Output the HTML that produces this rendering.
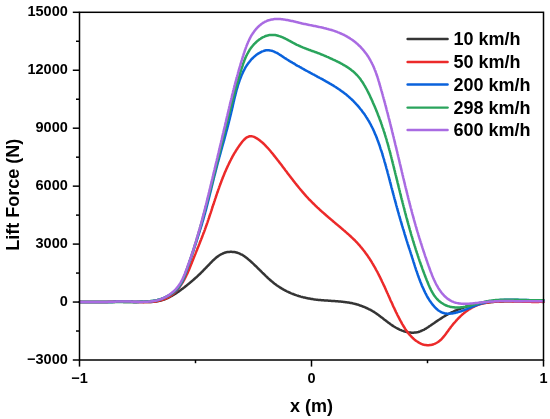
<!DOCTYPE html>
<html><head><meta charset="utf-8"><title>Lift Force vs x</title>
<style>
html,body{margin:0;padding:0;background:#fff;}
body{width:550px;height:419px;overflow:hidden;}
svg{display:block;}
text{font-family:"Liberation Sans",sans-serif;font-weight:bold;fill:#000;}
</style></head><body>
<svg width="550" height="419" viewBox="0 0 550 419">
<rect width="550" height="419" fill="#fff"/>
<g fill="none" stroke-width="2.5" stroke-linecap="round" stroke-linejoin="round">
<path d="M79.5,301.9 L80.8,301.9 L81.7,301.9 L82.6,301.9 L83.6,301.9 L84.5,301.9 L85.5,301.9 L86.4,301.9 L87.4,301.9 L88.3,301.9 L89.3,301.9 L90.3,301.9 L91.2,301.9 L92.2,301.9 L93.2,301.9 L94.2,301.9 L95.2,301.9 L96.1,301.9 L97.1,301.9 L98.1,301.9 L99.1,301.9 L100.1,301.9 L101.1,301.9 L102.2,301.9 L103.2,301.9 L104.2,301.9 L105.2,301.9 L106.2,301.9 L107.2,301.9 L108.3,301.9 L109.3,301.9 L110.3,301.9 L111.3,301.9 L112.3,301.9 L113.4,301.9 L114.4,301.9 L115.4,301.8 L116.5,301.8 L117.5,301.8 L118.5,301.8 L119.6,301.8 L120.6,301.8 L121.6,301.8 L122.6,301.8 L123.7,301.9 L124.7,301.9 L125.7,301.9 L126.8,301.9 L127.8,301.9 L128.8,301.9 L129.8,301.9 L130.9,301.9 L131.9,301.9 L132.9,301.9 L133.9,301.9 L135.0,301.9 L136.0,301.9 L137.0,301.9 L138.0,302.0 L139.0,302.0 L140.0,302.0 L141.0,302.0 L142.0,302.0 L143.0,302.0 L144.0,302.0 L145.0,302.0 L146.0,302.0 L147.0,302.0 L148.0,302.0 L149.0,302.0 L150.0,302.0 L150.9,301.9 L151.9,301.9 L152.9,301.8 L153.8,301.7 L154.8,301.6 L155.8,301.5 L156.7,301.4 L157.6,301.2 L158.6,301.1 L159.5,300.9 L160.5,300.7 L161.4,300.4 L162.3,300.1 L163.2,299.8 L164.1,299.5 L165.0,299.2 L165.9,298.8 L166.8,298.4 L167.7,298.0 L168.6,297.6 L169.5,297.2 L170.3,296.7 L171.2,296.2 L172.1,295.8 L172.9,295.3 L173.8,294.7 L174.6,294.2 L175.5,293.7 L176.3,293.1 L177.2,292.5 L178.0,292.0 L178.8,291.4 L179.7,290.8 L180.5,290.2 L181.3,289.6 L182.1,289.0 L182.9,288.4 L183.7,287.8 L184.5,287.2 L185.3,286.5 L186.1,285.9 L186.9,285.3 L187.7,284.6 L188.5,284.0 L189.2,283.4 L190.0,282.7 L190.8,282.1 L191.5,281.4 L192.3,280.8 L193.1,280.1 L193.8,279.5 L194.6,278.8 L195.3,278.1 L196.1,277.5 L196.8,276.8 L197.6,276.1 L198.3,275.4 L199.0,274.7 L199.8,274.0 L200.5,273.3 L201.2,272.6 L201.9,271.9 L202.7,271.2 L203.4,270.4 L204.1,269.7 L204.8,269.0 L205.5,268.2 L206.2,267.5 L206.9,266.8 L207.6,266.0 L208.3,265.3 L209.1,264.5 L209.8,263.8 L210.5,263.0 L211.2,262.3 L211.9,261.6 L212.6,260.9 L213.3,260.2 L214.1,259.5 L214.8,258.8 L215.6,258.2 L216.3,257.5 L217.1,256.9 L217.9,256.4 L218.7,255.8 L219.5,255.3 L220.3,254.8 L221.1,254.3 L222.0,253.9 L222.8,253.5 L223.7,253.1 L224.6,252.8 L225.5,252.5 L226.4,252.3 L227.4,252.1 L228.4,252.0 L229.4,251.9 L230.4,251.8 L231.4,251.8 L232.4,251.9 L233.4,252.0 L234.4,252.1 L235.4,252.3 L236.4,252.5 L237.4,252.8 L238.3,253.1 L239.2,253.4 L240.1,253.8 L241.0,254.3 L241.9,254.7 L242.8,255.2 L243.6,255.7 L244.4,256.3 L245.3,256.9 L246.1,257.5 L246.8,258.1 L247.6,258.7 L248.4,259.4 L249.2,260.0 L249.9,260.7 L250.7,261.3 L251.4,262.0 L252.2,262.7 L252.9,263.4 L253.7,264.1 L254.4,264.8 L255.1,265.5 L255.9,266.2 L256.6,266.9 L257.3,267.6 L258.0,268.3 L258.7,269.0 L259.5,269.7 L260.2,270.5 L260.9,271.2 L261.6,271.9 L262.3,272.6 L263.1,273.3 L263.8,274.0 L264.5,274.7 L265.2,275.4 L265.9,276.1 L266.7,276.8 L267.4,277.5 L268.1,278.2 L268.9,278.9 L269.6,279.5 L270.4,280.2 L271.1,280.8 L271.9,281.5 L272.7,282.1 L273.4,282.7 L274.2,283.4 L275.0,284.0 L275.8,284.6 L276.6,285.2 L277.4,285.7 L278.2,286.3 L279.0,286.8 L279.9,287.4 L280.7,287.9 L281.5,288.4 L282.4,288.9 L283.2,289.4 L284.1,289.9 L285.0,290.3 L285.9,290.8 L286.7,291.3 L287.6,291.7 L288.5,292.1 L289.4,292.5 L290.3,292.9 L291.2,293.3 L292.2,293.7 L293.1,294.0 L294.0,294.4 L294.9,294.8 L295.9,295.1 L296.8,295.4 L297.8,295.7 L298.7,296.0 L299.7,296.3 L300.6,296.6 L301.6,296.9 L302.6,297.1 L303.5,297.4 L304.5,297.6 L305.5,297.8 L306.5,298.1 L307.5,298.3 L308.5,298.5 L309.4,298.6 L310.4,298.8 L311.4,299.0 L312.4,299.1 L313.4,299.3 L314.4,299.4 L315.4,299.6 L316.4,299.7 L317.4,299.8 L318.4,299.9 L319.5,300.0 L320.5,300.1 L321.5,300.2 L322.5,300.3 L323.5,300.3 L324.5,300.4 L325.5,300.5 L326.5,300.6 L327.6,300.6 L328.6,300.7 L329.6,300.8 L330.6,300.8 L331.6,300.9 L332.6,301.0 L333.6,301.0 L334.6,301.1 L335.7,301.2 L336.7,301.2 L337.7,301.3 L338.7,301.4 L339.7,301.5 L340.7,301.6 L341.7,301.7 L342.7,301.8 L343.7,301.9 L344.7,302.0 L345.7,302.2 L346.6,302.3 L347.6,302.4 L348.6,302.6 L349.6,302.8 L350.6,303.0 L351.5,303.1 L352.5,303.3 L353.5,303.6 L354.4,303.8 L355.4,304.0 L356.4,304.3 L357.3,304.6 L358.3,304.8 L359.2,305.1 L360.1,305.5 L361.1,305.8 L362.0,306.1 L362.9,306.5 L363.8,306.8 L364.7,307.2 L365.6,307.6 L366.5,308.0 L367.4,308.4 L368.3,308.8 L369.2,309.3 L370.1,309.7 L371.0,310.2 L371.8,310.7 L372.7,311.2 L373.5,311.7 L374.4,312.2 L375.2,312.8 L376.0,313.3 L376.8,313.9 L377.7,314.5 L378.5,315.1 L379.3,315.7 L380.1,316.3 L380.9,316.9 L381.7,317.5 L382.5,318.1 L383.3,318.7 L384.1,319.4 L384.9,320.0 L385.7,320.6 L386.5,321.2 L387.3,321.8 L388.1,322.4 L388.9,323.0 L389.7,323.6 L390.5,324.2 L391.4,324.8 L392.2,325.4 L393.0,325.9 L393.9,326.5 L394.8,327.0 L395.6,327.5 L396.5,328.0 L397.4,328.5 L398.3,328.9 L399.2,329.4 L400.1,329.8 L401.1,330.2 L402.0,330.6 L403.0,330.9 L403.9,331.2 L404.9,331.5 L405.8,331.8 L406.8,332.0 L407.8,332.2 L408.7,332.4 L409.7,332.5 L410.7,332.6 L411.6,332.7 L412.6,332.7 L413.5,332.7 L414.5,332.6 L415.5,332.5 L416.4,332.4 L417.3,332.2 L418.3,332.0 L419.2,331.7 L420.1,331.4 L421.0,331.0 L421.9,330.6 L422.8,330.2 L423.7,329.8 L424.6,329.3 L425.4,328.8 L426.3,328.3 L427.2,327.7 L428.0,327.2 L428.9,326.6 L429.7,326.0 L430.6,325.5 L431.4,324.9 L432.3,324.3 L433.1,323.7 L433.9,323.2 L434.8,322.6 L435.6,322.0 L436.5,321.4 L437.3,320.9 L438.1,320.3 L439.0,319.7 L439.8,319.2 L440.7,318.6 L441.5,318.1 L442.4,317.5 L443.2,317.0 L444.1,316.5 L445.0,315.9 L445.8,315.4 L446.7,314.9 L447.6,314.5 L448.5,314.0 L449.3,313.5 L450.2,313.1 L451.1,312.6 L452.0,312.2 L452.9,311.8 L453.9,311.3 L454.8,310.9 L455.7,310.5 L456.6,310.2 L457.5,309.8 L458.5,309.4 L459.4,309.1 L460.3,308.7 L461.3,308.4 L462.2,308.1 L463.2,307.7 L464.1,307.4 L465.1,307.1 L466.0,306.8 L467.0,306.5 L468.0,306.3 L468.9,306.0 L469.9,305.7 L470.9,305.5 L471.8,305.3 L472.8,305.0 L473.8,304.8 L474.7,304.6 L475.7,304.4 L476.7,304.2 L477.7,304.0 L478.6,303.8 L479.6,303.6 L480.6,303.5 L481.6,303.3 L482.6,303.2 L483.6,303.0 L484.5,302.9 L485.5,302.7 L486.5,302.6 L487.5,302.5 L488.5,302.4 L489.5,302.3 L490.5,302.2 L491.5,302.1 L492.5,302.0 L493.5,301.9 L494.5,301.8 L495.5,301.8 L496.5,301.7 L497.4,301.6 L498.4,301.6 L499.4,301.5 L500.4,301.5 L501.4,301.4 L502.4,301.4 L503.4,301.4 L504.4,301.3 L505.4,301.3 L506.4,301.3 L507.4,301.3 L508.5,301.3 L509.5,301.3 L510.5,301.3 L511.5,301.2 L512.5,301.2 L513.5,301.2 L514.5,301.3 L515.5,301.3 L516.5,301.3 L517.5,301.3 L518.5,301.3 L519.5,301.3 L520.5,301.3 L521.5,301.3 L522.5,301.4 L523.5,301.4 L524.5,301.4 L525.5,301.4 L526.5,301.5 L527.5,301.5 L528.5,301.5 L529.5,301.5 L530.5,301.6 L531.5,301.6 L532.5,301.6 L533.5,301.6 L534.5,301.7 L535.5,301.7 L536.5,301.7 L537.5,301.8 L538.5,301.8 L539.5,301.8 L540.5,301.8 L541.5,301.8 L542.5,301.9 L543.5,301.8" stroke="#353535" />
<path d="M79.5,301.9 L80.5,301.8 L81.5,301.9 L82.5,301.9 L83.5,302.0 L84.5,302.0 L85.5,302.0 L86.5,302.0 L87.5,302.0 L88.5,302.1 L89.5,302.1 L90.5,302.1 L91.5,302.1 L92.5,302.1 L93.5,302.1 L94.5,302.1 L95.5,302.1 L96.5,302.1 L97.5,302.0 L98.5,302.0 L99.5,302.0 L100.5,302.0 L101.5,302.0 L102.5,302.0 L103.5,301.9 L104.5,301.9 L105.5,301.9 L106.5,301.9 L107.5,301.9 L108.5,301.8 L109.5,301.8 L110.5,301.8 L111.5,301.8 L112.5,301.8 L113.5,301.7 L114.5,301.7 L115.5,301.7 L116.5,301.7 L117.5,301.7 L118.5,301.7 L119.5,301.7 L120.5,301.7 L121.5,301.7 L122.5,301.7 L123.5,301.7 L124.5,301.7 L125.5,301.7 L126.5,301.7 L127.5,301.7 L128.5,301.7 L129.5,301.7 L130.5,301.8 L131.5,301.8 L132.5,301.8 L133.5,301.9 L134.5,301.9 L135.5,302.0 L136.5,302.0 L137.5,302.0 L138.5,302.1 L139.5,302.1 L140.5,302.1 L141.5,302.1 L142.5,302.1 L143.5,302.2 L144.5,302.1 L145.5,302.1 L146.5,302.1 L147.5,302.1 L148.5,302.0 L149.5,302.0 L150.5,301.9 L151.5,301.8 L152.5,301.7 L153.6,301.6 L154.6,301.5 L155.6,301.4 L156.6,301.2 L157.6,301.0 L158.6,300.8 L159.6,300.6 L160.6,300.3 L161.6,300.0 L162.6,299.7 L163.5,299.4 L164.5,299.1 L165.4,298.7 L166.3,298.3 L167.2,297.9 L168.0,297.4 L168.9,296.9 L169.7,296.4 L170.5,295.9 L171.3,295.3 L172.1,294.7 L172.9,294.1 L173.6,293.5 L174.4,292.8 L175.1,292.1 L175.8,291.4 L176.4,290.7 L177.1,290.0 L177.8,289.2 L178.4,288.5 L179.0,287.7 L179.6,286.9 L180.2,286.1 L180.8,285.3 L181.3,284.4 L181.9,283.6 L182.4,282.7 L183.0,281.9 L183.5,281.0 L184.0,280.1 L184.5,279.2 L184.9,278.3 L185.4,277.4 L185.9,276.5 L186.3,275.6 L186.7,274.7 L187.2,273.8 L187.6,272.9 L188.0,272.0 L188.4,271.1 L188.8,270.2 L189.2,269.3 L189.6,268.3 L189.9,267.4 L190.3,266.5 L190.7,265.6 L191.0,264.7 L191.4,263.8 L191.8,262.9 L192.1,261.9 L192.5,261.0 L192.9,260.1 L193.2,259.2 L193.6,258.2 L194.0,257.3 L194.3,256.4 L194.7,255.5 L195.1,254.6 L195.5,253.6 L195.8,252.7 L196.2,251.8 L196.6,250.8 L197.0,249.9 L197.3,249.0 L197.7,248.1 L198.1,247.1 L198.5,246.2 L198.8,245.3 L199.2,244.3 L199.6,243.4 L199.9,242.5 L200.3,241.5 L200.7,240.6 L201.1,239.6 L201.4,238.7 L201.8,237.8 L202.2,236.8 L202.5,235.9 L202.9,234.9 L203.2,234.0 L203.6,233.1 L204.0,232.1 L204.3,231.2 L204.7,230.2 L205.0,229.3 L205.3,228.3 L205.7,227.4 L206.0,226.4 L206.4,225.5 L206.7,224.5 L207.0,223.6 L207.4,222.6 L207.7,221.7 L208.0,220.7 L208.3,219.8 L208.6,218.8 L209.0,217.9 L209.3,216.9 L209.6,216.0 L209.9,215.0 L210.2,214.1 L210.6,213.1 L210.9,212.2 L211.2,211.2 L211.5,210.3 L211.8,209.3 L212.1,208.4 L212.4,207.4 L212.7,206.5 L213.0,205.5 L213.4,204.6 L213.7,203.6 L214.0,202.7 L214.3,201.7 L214.6,200.8 L214.9,199.8 L215.2,198.9 L215.6,197.9 L215.9,197.0 L216.2,196.0 L216.5,195.1 L216.8,194.2 L217.1,193.2 L217.5,192.3 L217.8,191.3 L218.1,190.4 L218.4,189.4 L218.8,188.5 L219.1,187.6 L219.4,186.6 L219.8,185.7 L220.1,184.8 L220.5,183.8 L220.8,182.9 L221.2,182.0 L221.5,181.0 L221.9,180.1 L222.2,179.2 L222.6,178.3 L222.9,177.3 L223.3,176.4 L223.7,175.5 L224.1,174.6 L224.4,173.6 L224.8,172.7 L225.2,171.8 L225.6,170.9 L226.0,170.0 L226.4,169.1 L226.8,168.2 L227.2,167.3 L227.6,166.4 L228.0,165.5 L228.5,164.6 L228.9,163.7 L229.3,162.8 L229.8,161.9 L230.2,161.0 L230.7,160.1 L231.1,159.2 L231.6,158.3 L232.1,157.4 L232.5,156.5 L233.0,155.7 L233.5,154.8 L234.0,153.9 L234.5,153.0 L235.1,152.2 L235.6,151.3 L236.1,150.4 L236.7,149.6 L237.3,148.7 L237.8,147.8 L238.4,147.0 L239.0,146.1 L239.6,145.2 L240.2,144.4 L240.9,143.5 L241.5,142.7 L242.2,141.8 L242.9,141.0 L243.6,140.2 L244.3,139.5 L245.0,138.8 L245.7,138.2 L246.5,137.6 L247.3,137.2 L248.1,136.8 L248.9,136.5 L249.7,136.3 L250.5,136.2 L251.4,136.2 L252.3,136.4 L253.2,136.6 L254.1,136.9 L255.0,137.3 L255.9,137.8 L256.8,138.3 L257.6,138.9 L258.5,139.5 L259.4,140.1 L260.2,140.8 L261.0,141.5 L261.8,142.1 L262.6,142.8 L263.4,143.5 L264.1,144.2 L264.8,144.9 L265.5,145.6 L266.2,146.4 L266.9,147.1 L267.6,147.8 L268.2,148.5 L268.9,149.3 L269.5,150.0 L270.2,150.8 L270.8,151.5 L271.4,152.3 L272.1,153.1 L272.7,153.8 L273.3,154.6 L273.9,155.4 L274.5,156.1 L275.2,156.9 L275.8,157.7 L276.4,158.5 L277.0,159.3 L277.6,160.1 L278.2,160.8 L278.8,161.6 L279.4,162.4 L280.1,163.2 L280.7,164.0 L281.3,164.8 L281.9,165.6 L282.5,166.4 L283.1,167.2 L283.7,168.0 L284.3,168.8 L284.9,169.6 L285.5,170.5 L286.2,171.3 L286.8,172.1 L287.4,172.9 L288.0,173.7 L288.6,174.5 L289.2,175.3 L289.8,176.1 L290.5,176.9 L291.1,177.7 L291.7,178.5 L292.3,179.3 L292.9,180.1 L293.5,180.9 L294.2,181.7 L294.8,182.5 L295.4,183.3 L296.1,184.1 L296.7,184.9 L297.3,185.7 L298.0,186.4 L298.6,187.2 L299.2,188.0 L299.9,188.8 L300.5,189.6 L301.2,190.3 L301.8,191.1 L302.5,191.9 L303.1,192.6 L303.8,193.4 L304.4,194.1 L305.1,194.9 L305.7,195.6 L306.4,196.4 L307.1,197.1 L307.8,197.8 L308.4,198.6 L309.1,199.3 L309.8,200.0 L310.5,200.7 L311.2,201.4 L311.9,202.1 L312.6,202.8 L313.3,203.5 L314.0,204.2 L314.7,204.9 L315.4,205.6 L316.1,206.3 L316.8,206.9 L317.5,207.6 L318.3,208.3 L319.0,208.9 L319.7,209.6 L320.4,210.3 L321.2,210.9 L321.9,211.6 L322.6,212.2 L323.4,212.9 L324.1,213.5 L324.9,214.2 L325.6,214.8 L326.3,215.5 L327.1,216.1 L327.8,216.8 L328.6,217.4 L329.3,218.1 L330.1,218.7 L330.9,219.4 L331.6,220.0 L332.4,220.6 L333.1,221.3 L333.9,221.9 L334.7,222.6 L335.4,223.2 L336.2,223.9 L337.0,224.5 L337.7,225.1 L338.5,225.8 L339.3,226.4 L340.0,227.1 L340.8,227.7 L341.6,228.4 L342.3,229.1 L343.1,229.7 L343.9,230.4 L344.7,231.0 L345.4,231.7 L346.2,232.4 L347.0,233.1 L347.7,233.7 L348.5,234.4 L349.3,235.1 L350.0,235.8 L350.8,236.5 L351.5,237.2 L352.3,237.9 L353.0,238.6 L353.7,239.3 L354.5,240.0 L355.2,240.7 L355.9,241.5 L356.6,242.2 L357.3,242.9 L358.0,243.7 L358.6,244.4 L359.3,245.2 L360.0,245.9 L360.6,246.7 L361.2,247.4 L361.9,248.2 L362.5,249.0 L363.1,249.8 L363.7,250.5 L364.3,251.3 L364.9,252.1 L365.5,252.9 L366.1,253.7 L366.7,254.5 L367.2,255.3 L367.8,256.1 L368.4,257.0 L368.9,257.8 L369.5,258.6 L370.0,259.4 L370.5,260.3 L371.1,261.1 L371.6,261.9 L372.1,262.8 L372.6,263.6 L373.1,264.5 L373.6,265.3 L374.1,266.2 L374.6,267.0 L375.1,267.9 L375.6,268.8 L376.0,269.6 L376.5,270.5 L377.0,271.4 L377.5,272.2 L377.9,273.1 L378.4,274.0 L378.8,274.9 L379.3,275.8 L379.7,276.7 L380.2,277.6 L380.6,278.5 L381.0,279.4 L381.5,280.2 L381.9,281.2 L382.3,282.1 L382.8,283.0 L383.2,283.9 L383.6,284.8 L384.0,285.7 L384.5,286.6 L384.9,287.5 L385.3,288.4 L385.7,289.3 L386.1,290.3 L386.5,291.2 L386.9,292.1 L387.3,293.0 L387.8,293.9 L388.2,294.9 L388.6,295.8 L389.0,296.7 L389.4,297.6 L389.8,298.5 L390.2,299.5 L390.6,300.4 L391.0,301.3 L391.5,302.2 L391.9,303.1 L392.3,304.1 L392.7,305.0 L393.1,305.9 L393.5,306.8 L394.0,307.7 L394.4,308.6 L394.8,309.5 L395.2,310.4 L395.7,311.4 L396.1,312.3 L396.6,313.2 L397.0,314.1 L397.4,315.0 L397.9,315.9 L398.3,316.7 L398.8,317.6 L399.3,318.5 L399.7,319.4 L400.2,320.3 L400.7,321.2 L401.2,322.0 L401.6,322.9 L402.1,323.8 L402.6,324.6 L403.1,325.5 L403.6,326.3 L404.2,327.2 L404.7,328.0 L405.2,328.9 L405.8,329.7 L406.3,330.5 L406.9,331.3 L407.5,332.1 L408.1,332.9 L408.7,333.7 L409.3,334.4 L410.0,335.2 L410.7,335.9 L411.4,336.6 L412.1,337.4 L412.8,338.0 L413.5,338.7 L414.3,339.4 L415.1,340.0 L415.9,340.7 L416.8,341.3 L417.6,341.8 L418.5,342.4 L419.4,342.9 L420.3,343.3 L421.3,343.8 L422.2,344.2 L423.1,344.5 L424.1,344.8 L425.1,345.0 L426.0,345.1 L427.0,345.2 L428.0,345.3 L428.9,345.2 L429.9,345.1 L430.8,345.0 L431.8,344.8 L432.7,344.5 L433.6,344.2 L434.6,343.8 L435.5,343.4 L436.3,343.0 L437.2,342.5 L438.0,342.0 L438.8,341.4 L439.6,340.8 L440.3,340.2 L441.1,339.5 L441.8,338.8 L442.4,338.1 L443.1,337.4 L443.7,336.6 L444.4,335.8 L445.0,335.1 L445.6,334.3 L446.2,333.4 L446.8,332.6 L447.4,331.8 L448.0,331.0 L448.6,330.1 L449.2,329.3 L449.8,328.5 L450.4,327.7 L451.0,326.8 L451.7,326.0 L452.3,325.2 L453.0,324.4 L453.6,323.6 L454.3,322.8 L455.0,322.1 L455.7,321.3 L456.3,320.5 L457.0,319.8 L457.7,319.0 L458.5,318.3 L459.2,317.5 L459.9,316.8 L460.6,316.1 L461.4,315.4 L462.1,314.7 L462.9,314.1 L463.7,313.4 L464.4,312.8 L465.2,312.2 L466.0,311.6 L466.8,311.0 L467.6,310.4 L468.4,309.8 L469.2,309.3 L470.1,308.8 L470.9,308.3 L471.8,307.8 L472.6,307.3 L473.5,306.9 L474.3,306.4 L475.2,306.0 L476.1,305.7 L477.0,305.3 L477.9,304.9 L478.8,304.6 L479.7,304.3 L480.6,304.0 L481.6,303.8 L482.5,303.5 L483.5,303.3 L484.4,303.1 L485.4,302.9 L486.3,302.7 L487.3,302.5 L488.2,302.4 L489.2,302.2 L490.2,302.1 L491.2,302.0 L492.2,301.9 L493.2,301.8 L494.2,301.7 L495.2,301.6 L496.2,301.5 L497.2,301.5 L498.2,301.4 L499.2,301.4 L500.2,301.4 L501.2,301.3 L502.2,301.3 L503.3,301.3 L504.3,301.3 L505.3,301.3 L506.3,301.3 L507.4,301.3 L508.4,301.3 L509.4,301.3 L510.4,301.3 L511.5,301.3 L512.5,301.4 L513.5,301.4 L514.5,301.4 L515.6,301.4 L516.6,301.5 L517.6,301.5 L518.7,301.5 L519.7,301.6 L520.7,301.6 L521.7,301.6 L522.7,301.6 L523.8,301.7 L524.8,301.7 L525.8,301.7 L526.8,301.8 L527.8,301.8 L528.8,301.8 L529.8,301.8 L530.8,301.8 L531.8,301.9 L532.8,301.9 L533.7,301.9 L534.7,301.9 L535.7,301.9 L536.7,301.9 L537.6,301.9 L538.6,301.9 L539.5,301.8 L540.5,301.8 L541.4,301.8 L542.3,301.8 L543.5,301.8" stroke="#ec2a2a" />
<path d="M79.5,301.9 L80.5,301.9 L81.5,301.9 L82.5,301.9 L83.5,301.9 L84.5,301.9 L85.5,301.9 L86.5,301.9 L87.5,301.9 L88.6,302.0 L89.6,302.0 L90.6,302.0 L91.6,302.0 L92.6,302.0 L93.6,302.0 L94.6,302.0 L95.6,302.0 L96.6,302.0 L97.6,302.0 L98.6,301.9 L99.5,301.9 L100.5,301.9 L101.5,301.9 L102.5,301.9 L103.5,301.9 L104.5,301.9 L105.5,301.9 L106.5,301.9 L107.5,301.9 L108.5,301.9 L109.5,301.9 L110.5,301.9 L111.5,301.9 L112.5,301.9 L113.5,301.8 L114.5,301.8 L115.5,301.8 L116.5,301.8 L117.5,301.8 L118.5,301.8 L119.5,301.8 L120.5,301.8 L121.5,301.8 L122.5,301.8 L123.5,301.8 L124.5,301.8 L125.5,301.8 L126.5,301.8 L127.5,301.8 L128.5,301.8 L129.5,301.8 L130.5,301.8 L131.5,301.8 L132.5,301.8 L133.5,301.9 L134.5,301.9 L135.5,301.9 L136.5,301.9 L137.5,301.9 L138.6,301.9 L139.6,301.8 L140.6,301.8 L141.6,301.8 L142.6,301.8 L143.6,301.7 L144.6,301.7 L145.6,301.6 L146.6,301.6 L147.6,301.5 L148.6,301.4 L149.6,301.3 L150.6,301.2 L151.6,301.1 L152.6,300.9 L153.5,300.8 L154.5,300.6 L155.5,300.4 L156.5,300.2 L157.4,300.0 L158.4,299.7 L159.4,299.5 L160.3,299.2 L161.3,298.9 L162.2,298.5 L163.2,298.2 L164.1,297.8 L165.0,297.4 L165.9,297.0 L166.8,296.6 L167.7,296.2 L168.6,295.7 L169.5,295.2 L170.4,294.7 L171.2,294.1 L172.0,293.6 L172.8,293.0 L173.6,292.4 L174.4,291.8 L175.1,291.1 L175.9,290.5 L176.6,289.8 L177.3,289.1 L177.9,288.3 L178.6,287.6 L179.2,286.8 L179.7,286.0 L180.3,285.2 L180.8,284.4 L181.3,283.5 L181.8,282.6 L182.3,281.8 L182.7,280.9 L183.1,280.0 L183.5,279.0 L183.9,278.1 L184.3,277.2 L184.7,276.2 L185.0,275.3 L185.4,274.3 L185.7,273.3 L186.0,272.4 L186.4,271.4 L186.7,270.4 L187.0,269.4 L187.3,268.5 L187.7,267.5 L188.0,266.6 L188.3,265.6 L188.6,264.6 L189.0,263.7 L189.3,262.7 L189.6,261.7 L189.9,260.8 L190.3,259.8 L190.6,258.9 L190.9,257.9 L191.2,257.0 L191.6,256.0 L191.9,255.1 L192.2,254.1 L192.5,253.2 L192.8,252.2 L193.2,251.3 L193.5,250.3 L193.8,249.4 L194.1,248.4 L194.4,247.5 L194.7,246.6 L195.1,245.6 L195.4,244.7 L195.7,243.7 L196.0,242.8 L196.3,241.8 L196.6,240.9 L196.9,239.9 L197.2,239.0 L197.5,238.1 L197.8,237.1 L198.1,236.2 L198.4,235.2 L198.7,234.3 L199.0,233.3 L199.3,232.4 L199.6,231.4 L199.9,230.5 L200.2,229.5 L200.5,228.6 L200.8,227.7 L201.1,226.7 L201.4,225.8 L201.7,224.8 L202.0,223.8 L202.2,222.9 L202.5,221.9 L202.8,221.0 L203.1,220.0 L203.4,219.1 L203.6,218.1 L203.9,217.2 L204.2,216.2 L204.4,215.2 L204.7,214.3 L205.0,213.3 L205.2,212.3 L205.5,211.4 L205.8,210.4 L206.0,209.4 L206.3,208.5 L206.5,207.5 L206.8,206.5 L207.0,205.5 L207.3,204.6 L207.5,203.6 L207.8,202.6 L208.0,201.6 L208.3,200.7 L208.5,199.7 L208.8,198.7 L209.0,197.7 L209.3,196.7 L209.5,195.8 L209.7,194.8 L210.0,193.8 L210.2,192.8 L210.5,191.8 L210.7,190.9 L211.0,189.9 L211.2,188.9 L211.4,187.9 L211.7,186.9 L211.9,186.0 L212.2,185.0 L212.4,184.0 L212.6,183.0 L212.9,182.1 L213.1,181.1 L213.4,180.1 L213.6,179.1 L213.8,178.1 L214.1,177.2 L214.3,176.2 L214.6,175.2 L214.8,174.3 L215.1,173.3 L215.3,172.3 L215.6,171.3 L215.8,170.4 L216.1,169.4 L216.3,168.4 L216.6,167.5 L216.8,166.5 L217.1,165.6 L217.3,164.6 L217.6,163.6 L217.8,162.7 L218.1,161.7 L218.4,160.8 L218.6,159.8 L218.9,158.9 L219.1,157.9 L219.4,156.9 L219.7,156.0 L219.9,155.0 L220.2,154.1 L220.5,153.1 L220.7,152.2 L221.0,151.2 L221.2,150.3 L221.5,149.3 L221.8,148.4 L222.0,147.4 L222.3,146.5 L222.6,145.5 L222.8,144.6 L223.1,143.6 L223.4,142.7 L223.6,141.7 L223.9,140.8 L224.2,139.8 L224.4,138.8 L224.7,137.9 L224.9,136.9 L225.2,136.0 L225.5,135.0 L225.7,134.1 L226.0,133.1 L226.2,132.1 L226.5,131.2 L226.8,130.2 L227.0,129.3 L227.3,128.3 L227.5,127.3 L227.8,126.4 L228.0,125.4 L228.3,124.4 L228.5,123.4 L228.8,122.5 L229.0,121.5 L229.3,120.5 L229.5,119.5 L229.8,118.6 L230.0,117.6 L230.2,116.6 L230.5,115.6 L230.7,114.6 L231.0,113.6 L231.2,112.6 L231.4,111.7 L231.7,110.7 L231.9,109.7 L232.1,108.7 L232.4,107.7 L232.6,106.7 L232.8,105.7 L233.0,104.7 L233.3,103.7 L233.5,102.6 L233.7,101.6 L234.0,100.6 L234.2,99.6 L234.4,98.6 L234.7,97.6 L234.9,96.6 L235.2,95.7 L235.4,94.7 L235.7,93.7 L235.9,92.7 L236.2,91.7 L236.4,90.7 L236.7,89.7 L237.0,88.7 L237.3,87.8 L237.6,86.8 L237.8,85.8 L238.1,84.9 L238.4,83.9 L238.8,83.0 L239.1,82.0 L239.4,81.1 L239.7,80.1 L240.1,79.2 L240.4,78.3 L240.8,77.4 L241.1,76.5 L241.5,75.5 L241.9,74.6 L242.3,73.8 L242.7,72.9 L243.1,72.0 L243.5,71.1 L244.0,70.3 L244.4,69.4 L244.9,68.6 L245.3,67.7 L245.8,66.9 L246.3,66.1 L246.8,65.3 L247.4,64.5 L247.9,63.7 L248.5,62.9 L249.1,62.2 L249.7,61.4 L250.3,60.7 L250.9,59.9 L251.6,59.2 L252.3,58.5 L253.0,57.8 L253.7,57.1 L254.5,56.4 L255.3,55.8 L256.1,55.1 L256.9,54.5 L257.8,53.9 L258.7,53.3 L259.6,52.8 L260.5,52.3 L261.4,51.8 L262.3,51.4 L263.3,51.1 L264.2,50.8 L265.2,50.5 L266.1,50.3 L267.1,50.2 L268.0,50.2 L269.0,50.3 L269.9,50.4 L270.8,50.6 L271.8,50.8 L272.7,51.1 L273.6,51.4 L274.5,51.8 L275.5,52.3 L276.4,52.7 L277.3,53.2 L278.2,53.7 L279.1,54.3 L280.0,54.9 L280.9,55.4 L281.8,56.0 L282.7,56.6 L283.6,57.2 L284.4,57.8 L285.3,58.3 L286.2,58.9 L287.1,59.5 L288.0,60.0 L288.9,60.6 L289.7,61.1 L290.6,61.6 L291.5,62.2 L292.4,62.7 L293.2,63.2 L294.1,63.7 L295.0,64.2 L295.8,64.8 L296.7,65.3 L297.6,65.8 L298.4,66.2 L299.3,66.7 L300.1,67.2 L301.0,67.7 L301.9,68.2 L302.7,68.7 L303.6,69.1 L304.4,69.6 L305.3,70.1 L306.2,70.6 L307.0,71.0 L307.9,71.5 L308.7,72.0 L309.6,72.4 L310.5,72.9 L311.3,73.3 L312.2,73.8 L313.0,74.3 L313.9,74.7 L314.8,75.2 L315.6,75.7 L316.5,76.1 L317.3,76.6 L318.2,77.1 L319.1,77.5 L319.9,78.0 L320.8,78.5 L321.7,78.9 L322.6,79.4 L323.4,79.9 L324.3,80.4 L325.2,80.9 L326.0,81.4 L326.9,81.9 L327.8,82.4 L328.7,82.9 L329.5,83.4 L330.4,83.9 L331.3,84.4 L332.1,84.9 L333.0,85.4 L333.9,85.9 L334.7,86.5 L335.6,87.0 L336.4,87.6 L337.3,88.1 L338.1,88.7 L338.9,89.2 L339.8,89.8 L340.6,90.4 L341.4,91.0 L342.3,91.6 L343.1,92.2 L343.9,92.8 L344.7,93.4 L345.5,94.0 L346.3,94.6 L347.0,95.3 L347.8,95.9 L348.6,96.6 L349.3,97.3 L350.1,97.9 L350.8,98.6 L351.6,99.3 L352.3,100.0 L353.0,100.7 L353.7,101.4 L354.4,102.2 L355.1,102.9 L355.8,103.6 L356.5,104.4 L357.2,105.1 L357.9,105.9 L358.5,106.6 L359.2,107.4 L359.8,108.2 L360.4,109.0 L361.1,109.8 L361.7,110.6 L362.3,111.4 L362.9,112.2 L363.5,113.0 L364.1,113.8 L364.7,114.6 L365.2,115.4 L365.8,116.3 L366.3,117.1 L366.9,118.0 L367.4,118.8 L367.9,119.7 L368.4,120.5 L369.0,121.4 L369.5,122.3 L369.9,123.1 L370.4,124.0 L370.9,124.9 L371.3,125.8 L371.8,126.7 L372.2,127.5 L372.7,128.4 L373.1,129.3 L373.5,130.2 L373.9,131.1 L374.3,132.1 L374.7,133.0 L375.1,133.9 L375.5,134.8 L375.9,135.7 L376.3,136.6 L376.6,137.6 L377.0,138.5 L377.3,139.4 L377.7,140.3 L378.0,141.3 L378.4,142.2 L378.7,143.1 L379.0,144.1 L379.4,145.0 L379.7,145.9 L380.0,146.9 L380.3,147.8 L380.6,148.8 L380.9,149.7 L381.3,150.7 L381.6,151.6 L381.9,152.5 L382.2,153.5 L382.5,154.4 L382.7,155.4 L383.0,156.3 L383.3,157.3 L383.6,158.2 L383.9,159.2 L384.2,160.1 L384.4,161.1 L384.7,162.1 L385.0,163.0 L385.3,164.0 L385.5,164.9 L385.8,165.9 L386.1,166.8 L386.3,167.8 L386.6,168.8 L386.9,169.7 L387.1,170.7 L387.4,171.6 L387.6,172.6 L387.9,173.6 L388.2,174.5 L388.4,175.5 L388.7,176.5 L388.9,177.4 L389.2,178.4 L389.4,179.4 L389.7,180.3 L389.9,181.3 L390.2,182.3 L390.4,183.2 L390.7,184.2 L390.9,185.2 L391.2,186.1 L391.4,187.1 L391.7,188.1 L392.0,189.0 L392.2,190.0 L392.5,191.0 L392.7,192.0 L393.0,192.9 L393.2,193.9 L393.5,194.9 L393.8,195.8 L394.0,196.8 L394.3,197.8 L394.5,198.8 L394.8,199.7 L395.1,200.7 L395.3,201.7 L395.6,202.6 L395.9,203.6 L396.1,204.6 L396.4,205.6 L396.7,206.5 L396.9,207.5 L397.2,208.5 L397.5,209.4 L397.7,210.4 L398.0,211.4 L398.3,212.3 L398.6,213.3 L398.8,214.3 L399.1,215.3 L399.4,216.2 L399.7,217.2 L399.9,218.2 L400.2,219.1 L400.5,220.1 L400.8,221.1 L401.1,222.0 L401.4,223.0 L401.6,224.0 L401.9,224.9 L402.2,225.9 L402.5,226.8 L402.8,227.8 L403.1,228.8 L403.4,229.7 L403.7,230.7 L404.0,231.7 L404.3,232.6 L404.5,233.6 L404.8,234.5 L405.1,235.5 L405.4,236.4 L405.7,237.4 L406.0,238.4 L406.3,239.3 L406.6,240.3 L406.9,241.2 L407.2,242.2 L407.5,243.1 L407.8,244.1 L408.1,245.0 L408.4,246.0 L408.7,246.9 L409.0,247.9 L409.4,248.8 L409.7,249.8 L410.0,250.7 L410.3,251.7 L410.6,252.6 L410.9,253.6 L411.2,254.5 L411.5,255.5 L411.8,256.4 L412.1,257.4 L412.4,258.3 L412.7,259.2 L413.0,260.2 L413.3,261.1 L413.6,262.1 L413.9,263.0 L414.2,263.9 L414.5,264.9 L414.8,265.8 L415.1,266.8 L415.4,267.7 L415.7,268.6 L416.0,269.6 L416.3,270.5 L416.7,271.4 L417.0,272.4 L417.3,273.3 L417.6,274.2 L417.9,275.2 L418.3,276.1 L418.6,277.0 L418.9,277.9 L419.3,278.9 L419.6,279.8 L420.0,280.7 L420.3,281.7 L420.7,282.6 L421.1,283.5 L421.5,284.4 L421.8,285.4 L422.2,286.3 L422.6,287.2 L423.1,288.1 L423.5,289.1 L423.9,290.0 L424.3,290.9 L424.8,291.8 L425.2,292.7 L425.7,293.7 L426.2,294.6 L426.6,295.5 L427.1,296.4 L427.6,297.3 L428.2,298.2 L428.7,299.0 L429.2,299.9 L429.8,300.8 L430.4,301.6 L431.0,302.4 L431.6,303.3 L432.2,304.1 L432.8,304.9 L433.5,305.6 L434.1,306.4 L434.8,307.1 L435.5,307.8 L436.2,308.5 L437.0,309.2 L437.7,309.9 L438.5,310.5 L439.3,311.0 L440.1,311.5 L440.9,312.0 L441.8,312.4 L442.7,312.8 L443.6,313.0 L444.5,313.3 L445.4,313.5 L446.4,313.6 L447.3,313.7 L448.3,313.7 L449.2,313.7 L450.2,313.6 L451.2,313.5 L452.2,313.4 L453.2,313.3 L454.2,313.1 L455.2,312.9 L456.2,312.6 L457.2,312.4 L458.1,312.1 L459.1,311.8 L460.1,311.5 L461.1,311.2 L462.0,310.9 L463.0,310.5 L464.0,310.2 L464.9,309.8 L465.9,309.4 L466.8,309.1 L467.8,308.7 L468.7,308.3 L469.7,307.9 L470.6,307.5 L471.6,307.1 L472.5,306.7 L473.5,306.4 L474.4,306.0 L475.4,305.6 L476.3,305.2 L477.3,304.9 L478.2,304.6 L479.2,304.2 L480.1,303.9 L481.1,303.6 L482.0,303.3 L483.0,303.1 L483.9,302.8 L484.9,302.5 L485.8,302.3 L486.8,302.1 L487.7,301.9 L488.7,301.7 L489.6,301.5 L490.6,301.3 L491.6,301.1 L492.5,301.0 L493.5,300.8 L494.4,300.7 L495.4,300.6 L496.4,300.4 L497.4,300.3 L498.3,300.2 L499.3,300.1 L500.3,300.1 L501.3,300.0 L502.3,299.9 L503.3,299.9 L504.3,299.8 L505.3,299.8 L506.3,299.8 L507.3,299.8 L508.3,299.7 L509.3,299.7 L510.3,299.7 L511.3,299.7 L512.4,299.7 L513.4,299.7 L514.4,299.7 L515.4,299.8 L516.4,299.8 L517.4,299.8 L518.5,299.8 L519.5,299.9 L520.5,299.9 L521.5,299.9 L522.5,300.0 L523.5,300.0 L524.6,300.0 L525.6,300.0 L526.6,300.1 L527.6,300.1 L528.6,300.1 L529.6,300.2 L530.6,300.2 L531.6,300.2 L532.6,300.2 L533.6,300.2 L534.6,300.3 L535.6,300.3 L536.6,300.3 L537.6,300.3 L538.6,300.3 L539.6,300.3 L540.5,300.2 L541.5,300.2 L542.5,300.2 L543.5,300.2" stroke="#0a62dc" />
<path d="M79.5,301.9 L80.5,301.9 L81.5,301.9 L82.5,301.9 L83.5,301.9 L84.5,301.9 L85.6,301.9 L86.6,301.9 L87.6,301.9 L88.6,301.9 L89.6,301.9 L90.6,301.9 L91.6,301.9 L92.6,301.9 L93.6,301.9 L94.6,301.9 L95.6,301.9 L96.6,301.9 L97.6,301.9 L98.6,301.9 L99.6,301.9 L100.6,301.9 L101.6,301.9 L102.6,301.9 L103.5,301.9 L104.5,301.9 L105.5,301.9 L106.5,301.9 L107.5,301.9 L108.5,301.9 L109.5,301.9 L110.5,301.9 L111.5,301.9 L112.5,301.9 L113.4,301.9 L114.4,301.9 L115.4,301.9 L116.4,301.9 L117.4,301.9 L118.4,301.9 L119.4,301.9 L120.4,301.9 L121.4,301.9 L122.4,301.9 L123.4,301.9 L124.4,301.9 L125.4,301.9 L126.4,301.9 L127.4,301.9 L128.4,301.9 L129.4,301.9 L130.4,301.9 L131.4,301.9 L132.5,301.9 L133.5,301.9 L134.5,301.9 L135.5,301.9 L136.5,301.9 L137.5,301.8 L138.6,301.8 L139.6,301.8 L140.6,301.8 L141.6,301.7 L142.6,301.7 L143.6,301.7 L144.6,301.6 L145.6,301.6 L146.7,301.5 L147.7,301.4 L148.7,301.3 L149.7,301.2 L150.7,301.1 L151.6,301.0 L152.6,300.9 L153.6,300.7 L154.6,300.6 L155.6,300.4 L156.5,300.2 L157.5,300.0 L158.5,299.7 L159.4,299.5 L160.4,299.2 L161.3,298.9 L162.3,298.6 L163.2,298.2 L164.1,297.8 L165.0,297.4 L165.9,297.0 L166.8,296.5 L167.7,296.1 L168.5,295.6 L169.4,295.1 L170.2,294.5 L171.1,294.0 L171.9,293.4 L172.7,292.8 L173.4,292.1 L174.2,291.5 L174.9,290.8 L175.6,290.2 L176.3,289.4 L177.0,288.7 L177.6,288.0 L178.3,287.2 L178.9,286.4 L179.4,285.6 L180.0,284.8 L180.5,284.0 L181.0,283.2 L181.5,282.3 L182.0,281.4 L182.4,280.5 L182.9,279.6 L183.3,278.7 L183.7,277.8 L184.1,276.9 L184.4,276.0 L184.8,275.0 L185.2,274.1 L185.5,273.1 L185.9,272.2 L186.2,271.2 L186.5,270.3 L186.9,269.3 L187.2,268.4 L187.6,267.4 L187.9,266.5 L188.2,265.5 L188.5,264.6 L188.9,263.6 L189.2,262.6 L189.5,261.7 L189.8,260.7 L190.2,259.8 L190.5,258.8 L190.8,257.9 L191.1,256.9 L191.4,255.9 L191.8,255.0 L192.1,254.0 L192.4,253.1 L192.7,252.1 L193.0,251.1 L193.3,250.2 L193.6,249.2 L193.9,248.3 L194.2,247.3 L194.5,246.4 L194.8,245.4 L195.1,244.4 L195.4,243.5 L195.7,242.5 L196.0,241.6 L196.3,240.6 L196.6,239.6 L196.9,238.7 L197.2,237.7 L197.5,236.8 L197.7,235.8 L198.0,234.8 L198.3,233.9 L198.6,232.9 L198.9,231.9 L199.2,231.0 L199.4,230.0 L199.7,229.1 L200.0,228.1 L200.3,227.1 L200.5,226.2 L200.8,225.2 L201.1,224.3 L201.4,223.3 L201.6,222.3 L201.9,221.4 L202.2,220.4 L202.4,219.4 L202.7,218.5 L203.0,217.5 L203.2,216.6 L203.5,215.6 L203.8,214.6 L204.0,213.7 L204.3,212.7 L204.6,211.7 L204.8,210.8 L205.1,209.8 L205.3,208.9 L205.6,207.9 L205.9,206.9 L206.1,206.0 L206.4,205.0 L206.6,204.0 L206.9,203.1 L207.1,202.1 L207.4,201.2 L207.6,200.2 L207.9,199.2 L208.1,198.3 L208.4,197.3 L208.6,196.3 L208.9,195.4 L209.1,194.4 L209.4,193.4 L209.6,192.5 L209.9,191.5 L210.1,190.6 L210.4,189.6 L210.6,188.6 L210.9,187.7 L211.1,186.7 L211.4,185.7 L211.6,184.8 L211.9,183.8 L212.1,182.8 L212.4,181.9 L212.6,180.9 L212.8,179.9 L213.1,179.0 L213.3,178.0 L213.6,177.0 L213.8,176.1 L214.0,175.1 L214.3,174.1 L214.5,173.2 L214.8,172.2 L215.0,171.2 L215.3,170.3 L215.5,169.3 L215.7,168.3 L216.0,167.4 L216.2,166.4 L216.4,165.4 L216.7,164.5 L216.9,163.5 L217.2,162.5 L217.4,161.6 L217.6,160.6 L217.9,159.6 L218.1,158.7 L218.4,157.7 L218.6,156.7 L218.8,155.7 L219.1,154.8 L219.3,153.8 L219.5,152.8 L219.8,151.9 L220.0,150.9 L220.3,149.9 L220.5,148.9 L220.7,148.0 L221.0,147.0 L221.2,146.0 L221.4,145.1 L221.7,144.1 L221.9,143.1 L222.2,142.1 L222.4,141.2 L222.6,140.2 L222.9,139.2 L223.1,138.2 L223.3,137.3 L223.6,136.3 L223.8,135.3 L224.1,134.3 L224.3,133.4 L224.5,132.4 L224.8,131.4 L225.0,130.4 L225.3,129.4 L225.5,128.5 L225.7,127.5 L226.0,126.5 L226.2,125.5 L226.5,124.6 L226.7,123.6 L226.9,122.6 L227.2,121.6 L227.4,120.6 L227.7,119.7 L227.9,118.7 L228.2,117.7 L228.4,116.7 L228.7,115.7 L228.9,114.7 L229.1,113.8 L229.4,112.8 L229.6,111.8 L229.9,110.8 L230.1,109.8 L230.4,108.8 L230.6,107.8 L230.9,106.9 L231.1,105.9 L231.4,104.9 L231.6,103.9 L231.9,102.9 L232.1,101.9 L232.4,101.0 L232.6,100.0 L232.9,99.0 L233.2,98.0 L233.4,97.0 L233.7,96.1 L233.9,95.1 L234.2,94.1 L234.5,93.1 L234.7,92.2 L235.0,91.2 L235.2,90.2 L235.5,89.2 L235.8,88.3 L236.0,87.3 L236.3,86.3 L236.6,85.4 L236.9,84.4 L237.1,83.4 L237.4,82.5 L237.7,81.5 L238.0,80.6 L238.2,79.6 L238.5,78.6 L238.8,77.7 L239.1,76.7 L239.4,75.8 L239.7,74.9 L239.9,73.9 L240.2,73.0 L240.5,72.0 L240.8,71.1 L241.1,70.2 L241.4,69.2 L241.7,68.3 L242.0,67.4 L242.3,66.5 L242.6,65.6 L242.9,64.6 L243.2,63.7 L243.5,62.8 L243.9,61.9 L244.2,61.0 L244.5,60.1 L244.9,59.2 L245.3,58.3 L245.6,57.4 L246.0,56.6 L246.4,55.7 L246.9,54.8 L247.3,53.9 L247.8,53.1 L248.3,52.2 L248.8,51.3 L249.3,50.5 L249.8,49.6 L250.4,48.8 L251.0,47.9 L251.6,47.1 L252.3,46.3 L252.9,45.5 L253.6,44.7 L254.3,44.0 L255.0,43.2 L255.8,42.5 L256.5,41.8 L257.3,41.1 L258.1,40.5 L258.9,39.8 L259.7,39.2 L260.5,38.7 L261.4,38.1 L262.2,37.6 L263.1,37.2 L264.0,36.8 L264.8,36.4 L265.7,36.0 L266.7,35.7 L267.6,35.5 L268.5,35.2 L269.4,35.1 L270.4,35.0 L271.3,34.9 L272.3,34.9 L273.3,34.9 L274.2,35.0 L275.2,35.1 L276.2,35.3 L277.1,35.5 L278.1,35.8 L279.1,36.1 L280.1,36.4 L281.0,36.7 L282.0,37.1 L283.0,37.5 L283.9,38.0 L284.9,38.4 L285.8,38.9 L286.8,39.3 L287.7,39.8 L288.6,40.3 L289.6,40.8 L290.5,41.3 L291.4,41.8 L292.3,42.3 L293.2,42.8 L294.2,43.3 L295.1,43.8 L296.0,44.3 L296.9,44.8 L297.8,45.2 L298.7,45.6 L299.6,46.0 L300.5,46.4 L301.4,46.8 L302.3,47.2 L303.2,47.6 L304.1,47.9 L305.0,48.3 L306.0,48.6 L306.9,49.0 L307.8,49.3 L308.7,49.7 L309.6,50.0 L310.5,50.3 L311.4,50.7 L312.3,51.0 L313.2,51.3 L314.2,51.6 L315.1,52.0 L316.0,52.3 L316.9,52.6 L317.8,53.0 L318.8,53.3 L319.7,53.7 L320.6,54.1 L321.5,54.5 L322.5,54.8 L323.4,55.2 L324.3,55.6 L325.3,56.0 L326.2,56.4 L327.1,56.8 L328.1,57.2 L329.0,57.7 L329.9,58.1 L330.8,58.5 L331.8,58.9 L332.7,59.4 L333.6,59.8 L334.5,60.2 L335.5,60.7 L336.4,61.1 L337.3,61.5 L338.2,62.0 L339.1,62.4 L340.0,62.9 L340.9,63.4 L341.8,63.8 L342.6,64.3 L343.5,64.8 L344.4,65.3 L345.2,65.8 L346.1,66.3 L346.9,66.9 L347.8,67.4 L348.6,68.0 L349.4,68.6 L350.3,69.1 L351.0,69.7 L351.8,70.4 L352.6,71.0 L353.4,71.6 L354.1,72.3 L354.8,72.9 L355.5,73.6 L356.2,74.3 L356.9,75.0 L357.6,75.8 L358.2,76.5 L358.9,77.3 L359.5,78.0 L360.1,78.8 L360.7,79.6 L361.2,80.4 L361.8,81.2 L362.4,82.0 L362.9,82.8 L363.4,83.7 L363.9,84.5 L364.4,85.4 L364.9,86.2 L365.4,87.1 L365.9,88.0 L366.4,88.9 L366.9,89.7 L367.3,90.6 L367.8,91.5 L368.2,92.4 L368.7,93.3 L369.1,94.2 L369.6,95.1 L370.0,96.1 L370.4,97.0 L370.8,97.9 L371.3,98.8 L371.7,99.7 L372.1,100.6 L372.5,101.5 L372.9,102.5 L373.3,103.4 L373.7,104.3 L374.1,105.2 L374.5,106.1 L374.9,107.1 L375.3,108.0 L375.7,108.9 L376.1,109.9 L376.4,110.8 L376.8,111.7 L377.2,112.6 L377.6,113.6 L377.9,114.5 L378.3,115.5 L378.7,116.4 L379.0,117.3 L379.4,118.3 L379.7,119.2 L380.1,120.2 L380.4,121.1 L380.8,122.0 L381.1,123.0 L381.4,123.9 L381.8,124.9 L382.1,125.8 L382.4,126.8 L382.7,127.7 L383.1,128.7 L383.4,129.6 L383.7,130.6 L384.0,131.5 L384.3,132.5 L384.6,133.4 L384.9,134.4 L385.2,135.3 L385.5,136.3 L385.8,137.3 L386.1,138.2 L386.4,139.2 L386.7,140.1 L386.9,141.1 L387.2,142.1 L387.5,143.0 L387.8,144.0 L388.0,144.9 L388.3,145.9 L388.6,146.9 L388.8,147.8 L389.1,148.8 L389.3,149.8 L389.6,150.7 L389.9,151.7 L390.1,152.7 L390.4,153.6 L390.6,154.6 L390.9,155.6 L391.1,156.5 L391.4,157.5 L391.6,158.5 L391.9,159.5 L392.1,160.4 L392.3,161.4 L392.6,162.4 L392.8,163.3 L393.1,164.3 L393.3,165.3 L393.6,166.2 L393.8,167.2 L394.0,168.2 L394.3,169.2 L394.5,170.1 L394.8,171.1 L395.0,172.1 L395.2,173.1 L395.5,174.0 L395.7,175.0 L396.0,176.0 L396.2,176.9 L396.4,177.9 L396.7,178.9 L396.9,179.9 L397.2,180.8 L397.4,181.8 L397.6,182.8 L397.9,183.7 L398.1,184.7 L398.4,185.7 L398.6,186.7 L398.8,187.6 L399.1,188.6 L399.3,189.6 L399.6,190.5 L399.8,191.5 L400.0,192.5 L400.3,193.5 L400.5,194.4 L400.8,195.4 L401.0,196.4 L401.2,197.3 L401.5,198.3 L401.7,199.3 L402.0,200.2 L402.2,201.2 L402.5,202.2 L402.7,203.1 L403.0,204.1 L403.2,205.1 L403.5,206.0 L403.7,207.0 L404.0,208.0 L404.2,208.9 L404.5,209.9 L404.7,210.8 L405.0,211.8 L405.2,212.8 L405.5,213.7 L405.7,214.7 L406.0,215.7 L406.2,216.6 L406.5,217.6 L406.8,218.5 L407.0,219.5 L407.3,220.4 L407.5,221.4 L407.8,222.4 L408.1,223.3 L408.3,224.3 L408.6,225.2 L408.9,226.2 L409.1,227.2 L409.4,228.1 L409.7,229.1 L409.9,230.0 L410.2,231.0 L410.5,231.9 L410.8,232.9 L411.0,233.8 L411.3,234.8 L411.6,235.8 L411.9,236.7 L412.2,237.7 L412.5,238.6 L412.7,239.6 L413.0,240.5 L413.3,241.5 L413.6,242.4 L413.9,243.4 L414.2,244.3 L414.5,245.3 L414.8,246.2 L415.1,247.2 L415.4,248.2 L415.7,249.1 L416.0,250.1 L416.3,251.0 L416.6,252.0 L416.9,252.9 L417.3,253.9 L417.6,254.8 L417.9,255.8 L418.2,256.7 L418.5,257.7 L418.8,258.6 L419.2,259.6 L419.5,260.6 L419.8,261.5 L420.2,262.5 L420.5,263.4 L420.8,264.4 L421.2,265.3 L421.5,266.3 L421.9,267.2 L422.2,268.2 L422.5,269.1 L422.9,270.1 L423.2,271.1 L423.6,272.0 L424.0,273.0 L424.3,273.9 L424.7,274.9 L425.0,275.8 L425.4,276.8 L425.8,277.8 L426.2,278.7 L426.5,279.7 L426.9,280.6 L427.3,281.6 L427.7,282.5 L428.1,283.5 L428.5,284.5 L428.9,285.4 L429.3,286.3 L429.7,287.3 L430.1,288.2 L430.6,289.1 L431.0,290.0 L431.5,290.9 L432.0,291.8 L432.5,292.7 L433.0,293.5 L433.5,294.3 L434.0,295.2 L434.6,296.0 L435.2,296.8 L435.8,297.5 L436.4,298.3 L437.0,299.0 L437.7,299.7 L438.4,300.4 L439.1,301.0 L439.8,301.6 L440.6,302.2 L441.4,302.8 L442.2,303.3 L443.0,303.8 L443.8,304.3 L444.7,304.7 L445.5,305.2 L446.4,305.5 L447.3,305.9 L448.3,306.2 L449.2,306.4 L450.1,306.7 L451.1,306.9 L452.1,307.1 L453.0,307.2 L454.0,307.3 L455.0,307.4 L456.0,307.5 L457.0,307.5 L458.0,307.5 L459.0,307.5 L460.0,307.4 L461.0,307.3 L462.0,307.2 L463.0,307.1 L464.0,306.9 L465.0,306.8 L466.0,306.6 L467.0,306.4 L468.0,306.1 L469.0,305.9 L470.0,305.7 L470.9,305.4 L471.9,305.1 L472.9,304.9 L473.9,304.6 L474.9,304.3 L475.9,304.0 L476.9,303.8 L477.9,303.5 L478.9,303.2 L479.9,302.9 L480.8,302.7 L481.8,302.4 L482.8,302.2 L483.8,302.0 L484.8,301.7 L485.8,301.5 L486.8,301.3 L487.7,301.2 L488.7,301.0 L489.7,300.8 L490.7,300.7 L491.7,300.6 L492.7,300.4 L493.6,300.3 L494.6,300.2 L495.6,300.1 L496.6,300.1 L497.6,300.0 L498.6,299.9 L499.6,299.9 L500.5,299.8 L501.5,299.8 L502.5,299.7 L503.5,299.7 L504.5,299.7 L505.5,299.7 L506.5,299.7 L507.5,299.7 L508.4,299.7 L509.4,299.7 L510.4,299.7 L511.4,299.7 L512.4,299.7 L513.4,299.7 L514.4,299.7 L515.4,299.8 L516.4,299.8 L517.4,299.8 L518.4,299.9 L519.4,299.9 L520.4,299.9 L521.4,300.0 L522.4,300.0 L523.4,300.0 L524.4,300.1 L525.4,300.1 L526.4,300.1 L527.4,300.2 L528.4,300.2 L529.4,300.2 L530.4,300.2 L531.4,300.3 L532.4,300.3 L533.4,300.3 L534.4,300.3 L535.4,300.3 L536.5,300.3 L537.5,300.3 L538.5,300.3 L539.5,300.3 L540.5,300.2 L541.6,300.2 L542.6,300.2 L543.5,300.2" stroke="#2aa45c" />
<path d="M79.5,301.9 L80.5,301.8 L81.5,301.9 L82.5,301.9 L83.5,302.0 L84.6,302.0 L85.6,302.0 L86.6,302.0 L87.6,302.1 L88.6,302.1 L89.6,302.1 L90.6,302.1 L91.6,302.1 L92.6,302.1 L93.6,302.1 L94.6,302.1 L95.6,302.1 L96.6,302.1 L97.6,302.1 L98.6,302.1 L99.6,302.0 L100.6,302.0 L101.6,302.0 L102.6,302.0 L103.6,302.0 L104.5,301.9 L105.5,301.9 L106.5,301.9 L107.5,301.9 L108.5,301.8 L109.5,301.8 L110.4,301.8 L111.4,301.8 L112.4,301.7 L113.4,301.7 L114.4,301.7 L115.4,301.7 L116.4,301.6 L117.3,301.6 L118.3,301.6 L119.3,301.6 L120.3,301.6 L121.3,301.6 L122.3,301.6 L123.3,301.6 L124.3,301.6 L125.3,301.6 L126.3,301.6 L127.3,301.6 L128.3,301.6 L129.3,301.6 L130.4,301.6 L131.4,301.7 L132.4,301.7 L133.4,301.7 L134.4,301.7 L135.5,301.8 L136.5,301.8 L137.5,301.8 L138.6,301.8 L139.6,301.8 L140.6,301.9 L141.6,301.9 L142.7,301.9 L143.7,301.8 L144.7,301.8 L145.7,301.8 L146.7,301.7 L147.7,301.7 L148.8,301.6 L149.8,301.5 L150.8,301.4 L151.8,301.3 L152.7,301.2 L153.7,301.0 L154.7,300.8 L155.7,300.7 L156.7,300.4 L157.6,300.2 L158.6,299.9 L159.5,299.6 L160.5,299.3 L161.4,299.0 L162.3,298.6 L163.2,298.2 L164.1,297.8 L165.0,297.4 L165.9,296.9 L166.8,296.4 L167.6,295.9 L168.5,295.4 L169.3,294.8 L170.1,294.2 L170.9,293.6 L171.7,293.0 L172.5,292.3 L173.2,291.7 L174.0,291.0 L174.7,290.3 L175.4,289.6 L176.1,288.9 L176.7,288.1 L177.3,287.4 L178.0,286.6 L178.5,285.8 L179.1,285.0 L179.6,284.2 L180.2,283.4 L180.7,282.5 L181.2,281.7 L181.6,280.8 L182.1,279.9 L182.5,279.1 L182.9,278.2 L183.3,277.3 L183.7,276.4 L184.1,275.5 L184.5,274.6 L184.9,273.7 L185.2,272.8 L185.6,271.8 L185.9,270.9 L186.3,270.0 L186.6,269.1 L187.0,268.1 L187.3,267.2 L187.6,266.3 L188.0,265.3 L188.3,264.4 L188.7,263.5 L189.0,262.5 L189.3,261.6 L189.7,260.6 L190.0,259.7 L190.3,258.7 L190.6,257.8 L191.0,256.9 L191.3,255.9 L191.6,255.0 L191.9,254.0 L192.2,253.1 L192.5,252.1 L192.9,251.1 L193.2,250.2 L193.5,249.2 L193.8,248.3 L194.1,247.3 L194.4,246.4 L194.7,245.4 L195.0,244.4 L195.3,243.5 L195.6,242.5 L195.9,241.6 L196.2,240.6 L196.5,239.6 L196.7,238.7 L197.0,237.7 L197.3,236.7 L197.6,235.8 L197.9,234.8 L198.2,233.8 L198.5,232.9 L198.7,231.9 L199.0,230.9 L199.3,230.0 L199.6,229.0 L199.8,228.0 L200.1,227.1 L200.4,226.1 L200.6,225.1 L200.9,224.2 L201.2,223.2 L201.4,222.2 L201.7,221.3 L202.0,220.3 L202.2,219.3 L202.5,218.3 L202.7,217.4 L203.0,216.4 L203.2,215.4 L203.5,214.5 L203.7,213.5 L204.0,212.5 L204.3,211.6 L204.5,210.6 L204.7,209.6 L205.0,208.6 L205.2,207.7 L205.5,206.7 L205.7,205.7 L206.0,204.8 L206.2,203.8 L206.5,202.8 L206.7,201.9 L206.9,200.9 L207.2,199.9 L207.4,198.9 L207.7,198.0 L207.9,197.0 L208.1,196.0 L208.4,195.1 L208.6,194.1 L208.8,193.1 L209.1,192.1 L209.3,191.2 L209.6,190.2 L209.8,189.2 L210.0,188.3 L210.3,187.3 L210.5,186.3 L210.7,185.3 L211.0,184.4 L211.2,183.4 L211.4,182.4 L211.7,181.5 L211.9,180.5 L212.1,179.5 L212.4,178.5 L212.6,177.6 L212.8,176.6 L213.1,175.6 L213.3,174.6 L213.5,173.7 L213.8,172.7 L214.0,171.7 L214.2,170.8 L214.5,169.8 L214.7,168.8 L214.9,167.8 L215.2,166.9 L215.4,165.9 L215.6,164.9 L215.9,163.9 L216.1,163.0 L216.3,162.0 L216.6,161.0 L216.8,160.1 L217.0,159.1 L217.3,158.1 L217.5,157.1 L217.7,156.2 L218.0,155.2 L218.2,154.2 L218.4,153.2 L218.7,152.3 L218.9,151.3 L219.1,150.3 L219.3,149.4 L219.6,148.4 L219.8,147.4 L220.0,146.4 L220.3,145.5 L220.5,144.5 L220.7,143.5 L221.0,142.5 L221.2,141.6 L221.4,140.6 L221.7,139.6 L221.9,138.7 L222.1,137.7 L222.3,136.7 L222.6,135.7 L222.8,134.8 L223.0,133.8 L223.3,132.8 L223.5,131.8 L223.7,130.9 L223.9,129.9 L224.2,128.9 L224.4,128.0 L224.6,127.0 L224.9,126.0 L225.1,125.0 L225.3,124.1 L225.5,123.1 L225.8,122.1 L226.0,121.2 L226.2,120.2 L226.5,119.2 L226.7,118.2 L226.9,117.3 L227.1,116.3 L227.4,115.3 L227.6,114.3 L227.8,113.4 L228.1,112.4 L228.3,111.4 L228.5,110.5 L228.7,109.5 L229.0,108.5 L229.2,107.5 L229.4,106.6 L229.7,105.6 L229.9,104.6 L230.1,103.7 L230.4,102.7 L230.6,101.7 L230.8,100.8 L231.1,99.8 L231.3,98.8 L231.6,97.8 L231.8,96.9 L232.0,95.9 L232.3,94.9 L232.5,94.0 L232.8,93.0 L233.0,92.0 L233.2,91.0 L233.5,90.1 L233.7,89.1 L234.0,88.1 L234.2,87.2 L234.5,86.2 L234.7,85.2 L235.0,84.3 L235.2,83.3 L235.5,82.3 L235.8,81.4 L236.0,80.4 L236.3,79.4 L236.5,78.4 L236.8,77.5 L237.1,76.5 L237.3,75.5 L237.6,74.6 L237.9,73.6 L238.1,72.6 L238.4,71.7 L238.7,70.7 L239.0,69.7 L239.2,68.8 L239.5,67.8 L239.8,66.8 L240.1,65.9 L240.4,64.9 L240.7,63.9 L240.9,63.0 L241.2,62.0 L241.5,61.0 L241.8,60.1 L242.1,59.1 L242.4,58.2 L242.7,57.2 L243.0,56.2 L243.3,55.3 L243.6,54.3 L243.9,53.3 L244.3,52.4 L244.6,51.4 L244.9,50.4 L245.2,49.5 L245.6,48.5 L245.9,47.6 L246.3,46.6 L246.6,45.7 L247.0,44.8 L247.4,43.8 L247.8,42.9 L248.1,42.0 L248.6,41.1 L249.0,40.2 L249.4,39.3 L249.9,38.4 L250.3,37.5 L250.8,36.6 L251.3,35.7 L251.8,34.9 L252.4,34.0 L252.9,33.2 L253.5,32.4 L254.1,31.6 L254.7,30.8 L255.3,30.0 L255.9,29.2 L256.6,28.5 L257.3,27.7 L258.0,27.0 L258.7,26.3 L259.5,25.6 L260.3,25.0 L261.0,24.3 L261.8,23.8 L262.6,23.2 L263.5,22.7 L264.3,22.2 L265.2,21.7 L266.1,21.3 L266.9,20.9 L267.8,20.5 L268.8,20.2 L269.7,20.0 L270.6,19.7 L271.6,19.5 L272.5,19.4 L273.5,19.2 L274.5,19.1 L275.4,19.1 L276.4,19.0 L277.4,19.0 L278.4,19.0 L279.4,19.1 L280.4,19.1 L281.4,19.2 L282.4,19.3 L283.4,19.4 L284.4,19.6 L285.4,19.7 L286.4,19.9 L287.4,20.1 L288.4,20.3 L289.4,20.5 L290.4,20.7 L291.4,20.9 L292.4,21.1 L293.4,21.3 L294.3,21.6 L295.3,21.8 L296.3,22.1 L297.3,22.3 L298.3,22.5 L299.3,22.8 L300.3,23.0 L301.3,23.2 L302.2,23.5 L303.2,23.7 L304.2,23.9 L305.2,24.1 L306.2,24.3 L307.2,24.5 L308.2,24.7 L309.2,24.9 L310.1,25.1 L311.1,25.3 L312.1,25.5 L313.1,25.7 L314.1,25.9 L315.1,26.1 L316.0,26.3 L317.0,26.5 L318.0,26.7 L319.0,26.9 L319.9,27.1 L320.9,27.3 L321.9,27.5 L322.9,27.7 L323.8,28.0 L324.8,28.2 L325.8,28.4 L326.7,28.7 L327.7,28.9 L328.6,29.2 L329.6,29.5 L330.5,29.7 L331.5,30.0 L332.4,30.3 L333.4,30.6 L334.3,30.9 L335.3,31.3 L336.2,31.6 L337.1,31.9 L338.0,32.3 L339.0,32.7 L339.9,33.1 L340.8,33.5 L341.7,33.9 L342.6,34.3 L343.5,34.7 L344.4,35.2 L345.3,35.6 L346.2,36.1 L347.1,36.6 L347.9,37.1 L348.8,37.6 L349.6,38.1 L350.5,38.7 L351.3,39.2 L352.1,39.8 L353.0,40.4 L353.8,41.0 L354.5,41.6 L355.3,42.2 L356.1,42.8 L356.8,43.5 L357.6,44.1 L358.3,44.8 L359.0,45.5 L359.8,46.2 L360.5,46.9 L361.1,47.6 L361.8,48.4 L362.5,49.1 L363.1,49.9 L363.8,50.6 L364.4,51.4 L365.0,52.2 L365.6,53.0 L366.2,53.8 L366.8,54.6 L367.4,55.4 L367.9,56.3 L368.5,57.1 L369.0,58.0 L369.5,58.8 L370.0,59.7 L370.5,60.6 L371.0,61.4 L371.4,62.3 L371.9,63.2 L372.3,64.1 L372.8,65.0 L373.2,65.9 L373.6,66.8 L374.0,67.8 L374.4,68.7 L374.7,69.6 L375.1,70.6 L375.5,71.5 L375.8,72.4 L376.2,73.4 L376.5,74.3 L376.8,75.3 L377.2,76.2 L377.5,77.2 L377.8,78.2 L378.1,79.1 L378.4,80.1 L378.7,81.1 L379.0,82.0 L379.3,83.0 L379.5,84.0 L379.8,84.9 L380.1,85.9 L380.4,86.9 L380.7,87.8 L380.9,88.8 L381.2,89.8 L381.5,90.8 L381.8,91.7 L382.0,92.7 L382.3,93.7 L382.6,94.6 L382.8,95.6 L383.1,96.6 L383.4,97.5 L383.6,98.5 L383.9,99.5 L384.2,100.4 L384.4,101.4 L384.7,102.4 L385.0,103.3 L385.2,104.3 L385.5,105.3 L385.7,106.2 L386.0,107.2 L386.2,108.2 L386.5,109.1 L386.7,110.1 L387.0,111.1 L387.2,112.0 L387.5,113.0 L387.8,113.9 L388.0,114.9 L388.2,115.9 L388.5,116.8 L388.7,117.8 L389.0,118.8 L389.2,119.7 L389.5,120.7 L389.7,121.7 L390.0,122.6 L390.2,123.6 L390.5,124.5 L390.7,125.5 L390.9,126.5 L391.2,127.4 L391.4,128.4 L391.7,129.4 L391.9,130.3 L392.1,131.3 L392.4,132.3 L392.6,133.2 L392.8,134.2 L393.1,135.2 L393.3,136.1 L393.6,137.1 L393.8,138.1 L394.0,139.0 L394.3,140.0 L394.5,141.0 L394.7,141.9 L395.0,142.9 L395.2,143.9 L395.4,144.8 L395.7,145.8 L395.9,146.8 L396.1,147.7 L396.4,148.7 L396.6,149.7 L396.8,150.7 L397.1,151.6 L397.3,152.6 L397.5,153.6 L397.8,154.5 L398.0,155.5 L398.2,156.5 L398.5,157.5 L398.7,158.4 L398.9,159.4 L399.2,160.4 L399.4,161.4 L399.6,162.3 L399.8,163.3 L400.1,164.3 L400.3,165.3 L400.5,166.2 L400.8,167.2 L401.0,168.2 L401.2,169.2 L401.5,170.2 L401.7,171.1 L401.9,172.1 L402.2,173.1 L402.4,174.1 L402.6,175.1 L402.9,176.0 L403.1,177.0 L403.3,178.0 L403.6,179.0 L403.8,180.0 L404.1,180.9 L404.3,181.9 L404.5,182.9 L404.8,183.9 L405.0,184.9 L405.2,185.8 L405.5,186.8 L405.7,187.8 L406.0,188.8 L406.2,189.8 L406.4,190.7 L406.7,191.7 L406.9,192.7 L407.2,193.7 L407.4,194.6 L407.7,195.6 L407.9,196.6 L408.1,197.6 L408.4,198.6 L408.6,199.5 L408.9,200.5 L409.1,201.5 L409.4,202.4 L409.6,203.4 L409.9,204.4 L410.1,205.4 L410.4,206.3 L410.6,207.3 L410.9,208.3 L411.2,209.2 L411.4,210.2 L411.7,211.2 L411.9,212.1 L412.2,213.1 L412.4,214.1 L412.7,215.0 L413.0,216.0 L413.2,217.0 L413.5,217.9 L413.8,218.9 L414.0,219.8 L414.3,220.8 L414.6,221.8 L414.8,222.7 L415.1,223.7 L415.4,224.6 L415.6,225.6 L415.9,226.5 L416.2,227.5 L416.5,228.4 L416.7,229.4 L417.0,230.3 L417.3,231.3 L417.6,232.2 L417.9,233.2 L418.2,234.1 L418.4,235.0 L418.7,236.0 L419.0,236.9 L419.3,237.9 L419.6,238.8 L419.9,239.7 L420.2,240.7 L420.5,241.6 L420.8,242.6 L421.1,243.5 L421.4,244.4 L421.7,245.4 L422.0,246.3 L422.3,247.3 L422.6,248.2 L422.9,249.2 L423.2,250.1 L423.5,251.0 L423.8,252.0 L424.2,252.9 L424.5,253.9 L424.8,254.8 L425.1,255.8 L425.4,256.7 L425.8,257.7 L426.1,258.6 L426.4,259.6 L426.7,260.6 L427.1,261.5 L427.4,262.5 L427.7,263.5 L428.1,264.4 L428.4,265.4 L428.8,266.4 L429.1,267.3 L429.5,268.3 L429.8,269.3 L430.2,270.2 L430.5,271.2 L430.9,272.2 L431.3,273.1 L431.7,274.1 L432.0,275.0 L432.4,276.0 L432.8,276.9 L433.2,277.9 L433.6,278.8 L434.0,279.7 L434.5,280.7 L434.9,281.6 L435.3,282.5 L435.8,283.4 L436.2,284.3 L436.7,285.2 L437.2,286.0 L437.7,286.9 L438.2,287.8 L438.7,288.6 L439.2,289.5 L439.8,290.3 L440.4,291.1 L441.0,291.9 L441.6,292.7 L442.2,293.4 L442.8,294.2 L443.5,294.9 L444.1,295.6 L444.8,296.3 L445.6,297.0 L446.3,297.6 L447.0,298.3 L447.8,298.9 L448.6,299.4 L449.4,299.9 L450.2,300.4 L451.1,300.9 L451.9,301.3 L452.8,301.7 L453.7,302.1 L454.6,302.4 L455.5,302.7 L456.4,302.9 L457.3,303.1 L458.3,303.3 L459.2,303.5 L460.2,303.6 L461.2,303.7 L462.1,303.7 L463.1,303.8 L464.1,303.8 L465.1,303.8 L466.1,303.8 L467.2,303.8 L468.2,303.7 L469.2,303.7 L470.2,303.6 L471.3,303.5 L472.3,303.4 L473.3,303.3 L474.4,303.2 L475.4,303.1 L476.4,303.0 L477.5,302.9 L478.5,302.7 L479.5,302.6 L480.6,302.5 L481.6,302.4 L482.6,302.3 L483.6,302.2 L484.6,302.1 L485.6,302.0 L486.6,301.9 L487.6,301.8 L488.6,301.7 L489.6,301.6 L490.6,301.6 L491.6,301.5 L492.6,301.4 L493.6,301.4 L494.6,301.3 L495.6,301.3 L496.6,301.2 L497.6,301.2 L498.6,301.2 L499.6,301.1 L500.5,301.1 L501.5,301.1 L502.5,301.1 L503.5,301.1 L504.5,301.1 L505.5,301.1 L506.5,301.1 L507.5,301.1 L508.5,301.1 L509.5,301.1 L510.5,301.1 L511.5,301.1 L512.5,301.1 L513.4,301.1 L514.4,301.2 L515.4,301.2 L516.4,301.2 L517.4,301.2 L518.4,301.2 L519.4,301.2 L520.4,301.3 L521.4,301.3 L522.4,301.3 L523.4,301.3 L524.4,301.3 L525.4,301.3 L526.4,301.3 L527.4,301.3 L528.4,301.3 L529.4,301.3 L530.4,301.3 L531.5,301.3 L532.5,301.3 L533.5,301.3 L534.5,301.3 L535.5,301.3 L536.5,301.3 L537.5,301.3 L538.5,301.3 L539.5,301.3 L540.5,301.3 L541.5,301.3 L542.5,301.3 L543.5,301.3" stroke="#a96be2" />
</g>
<g stroke="#000" stroke-width="1.50" fill="none">
<rect x="79.50" y="12.30" width="464.00" height="347.70"/>
<line x1="72.8" y1="360.00" x2="79.50" y2="360.00"/>
<line x1="72.8" y1="302.05" x2="79.50" y2="302.05"/>
<line x1="72.8" y1="244.10" x2="79.50" y2="244.10"/>
<line x1="72.8" y1="186.15" x2="79.50" y2="186.15"/>
<line x1="72.8" y1="128.20" x2="79.50" y2="128.20"/>
<line x1="72.8" y1="70.25" x2="79.50" y2="70.25"/>
<line x1="72.8" y1="12.30" x2="79.50" y2="12.30"/>
<line x1="76" y1="331.02" x2="79.50" y2="331.02"/>
<line x1="76" y1="273.07" x2="79.50" y2="273.07"/>
<line x1="76" y1="215.12" x2="79.50" y2="215.12"/>
<line x1="76" y1="157.18" x2="79.50" y2="157.18"/>
<line x1="76" y1="99.23" x2="79.50" y2="99.23"/>
<line x1="76" y1="41.27" x2="79.50" y2="41.27"/>
<line x1="79.50" y1="360.00" x2="79.50" y2="366.6"/>
<line x1="311.50" y1="360.00" x2="311.50" y2="366.6"/>
<line x1="543.50" y1="360.00" x2="543.50" y2="366.6"/>
<line x1="195.50" y1="360.00" x2="195.50" y2="363.2"/>
<line x1="427.50" y1="360.00" x2="427.50" y2="363.2"/>
</g>
<g font-size="14.5px">
<text x="67.8" y="363.90" text-anchor="end">−3000</text>
<text x="67.8" y="305.95" text-anchor="end">0</text>
<text x="67.8" y="248.00" text-anchor="end">3000</text>
<text x="67.8" y="190.05" text-anchor="end">6000</text>
<text x="67.8" y="132.10" text-anchor="end">9000</text>
<text x="67.8" y="74.15" text-anchor="end">12000</text>
<text x="67.8" y="16.20" text-anchor="end">15000</text>
<text x="79.50" y="382.6" text-anchor="middle">−1</text>
<text x="311.50" y="382.6" text-anchor="middle">0</text>
<text x="543.50" y="382.6" text-anchor="middle">1</text>
</g>
<g fill="none" stroke-width="2.4" stroke-linecap="round">
<line x1="407.6" y1="39.00" x2="447.6" y2="39.00" stroke="#353535"/>
<line x1="407.6" y1="62.00" x2="447.6" y2="62.00" stroke="#ec2a2a"/>
<line x1="407.6" y1="84.50" x2="447.6" y2="84.50" stroke="#0a62dc"/>
<line x1="407.6" y1="107.60" x2="447.6" y2="107.60" stroke="#2aa45c"/>
<line x1="407.6" y1="130.00" x2="447.6" y2="130.00" stroke="#a96be2"/>
</g>
<g font-size="18px">
<text x="453.5" y="45.30">10 km/h</text>
<text x="453.5" y="68.30">50 km/h</text>
<text x="453.5" y="90.80">200 km/h</text>
<text x="453.5" y="113.90">298 km/h</text>
<text x="453.5" y="136.30">600 km/h</text>
</g>
<text x="311.5" y="412.2" text-anchor="middle" font-size="18px">x (m)</text>
<text transform="translate(19.3,194.8) rotate(-90)" text-anchor="middle" font-size="18px">Lift Force (N)</text>
</svg>
</body></html>
